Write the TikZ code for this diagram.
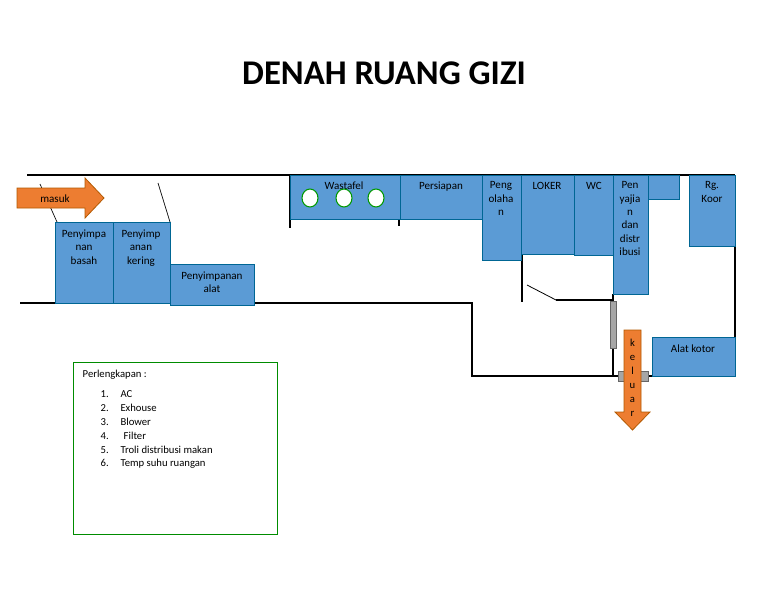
\documentclass[tikz,border=0pt]{standalone}
\usepackage{fontspec}
\setmainfont{Carlito}
\begin{document}
\begin{tikzpicture}[x=0.75pt,y=-0.75pt,
  room/.style={draw=blue!30!black!60!cyan,fill=roomblue,line width=0.6pt},
  wall/.style={draw=black,line width=1.2pt},
  lbl/.style={font=\fontsize{8.3}{10}\selectfont,align=center,anchor=north},
  arr/.style={draw=orange!70!black,fill=orangeF,line width=0.6pt},
  sink/.style={draw=green!60!black,fill=white,line width=0.8pt}]
\definecolor{roomblue}{HTML}{5B9BD5}
\definecolor{orangeF}{HTML}{ED7D31}
\useasboundingbox (0,0) rectangle (768,594);
\node[font=\bfseries\fontsize{26}{30}\selectfont] (title) at (384,73) {DENAH RUANG GIZI};
% walls
\draw[wall] (27,175) -- (735,175);
\draw[wall] (20,303) -- (472,303) -- (472,376) -- (735,376) -- (735,175);
\draw[wall] (290,175) -- (290,228);
\draw[wall] (399,175) -- (399,226);
\draw[wall] (522,254) -- (522,302);
\draw[line width=0.6pt] (527,285) -- (556,300);
\draw[wall] (556,300) -- (613,300);
\draw[wall] (613,294) -- (613,376);
\draw[line width=0.5pt] (40,184) -- (57,222);
\draw[line width=0.5pt] (158,183) -- (170,222);
% rooms
\draw[room] (55,222) rectangle (113,303) node[lbl] (basah) at (84,225) {Penyimpa\\nan\\basah};
\draw[room] (113,222) rectangle (170,303) node[lbl] (kering) at (141,225) {Penyimp\\anan\\kering};
\draw[room] (170,264) rectangle (254,305) node[lbl] (alat) at (212,267) {Penyimpanan\\alat};
\draw[room] (290,175) rectangle (400,219) node[lbl] (wast) at (344,177) {Wastafel};
\draw[sink] (310,198) ellipse (8 and 9);
\draw[sink] (344,198) ellipse (8 and 9);
\draw[sink] (376,198) ellipse (8 and 9);
\draw[room] (400,175) rectangle (482,219) node[lbl] (persiapan) at (441,177) {Persiapan};
\draw[room] (482,175) rectangle (521,260) node[lbl] (olah) at (501,177) {Peng\\olaha\\n};
\draw[room] (521,175) rectangle (574,254) node[lbl] (loker) at (547,177) {LOKER};
\draw[room] (574,175) rectangle (613,255) node[lbl] (wc) at (594,177) {WC};
\draw[room] (613,175) rectangle (648,294) node[lbl] (saji) at (630,177) {Pen\\yajia\\n\\dan\\distr\\ibusi};
\draw[room] (648,175) rectangle (679,199);
\draw[room] (689,175) rectangle (735,246) node[lbl] (koor) at (712,177) {Rg.\\Koor};
\draw[room] (652,337) rectangle (735,376) node[lbl] (kotor) at (693,340) {Alat kotor};
% gray elements
\draw[draw=gray!80!black,fill=gray!70] (610,301) rectangle (616,348);
\draw[draw=gray!80!black,fill=gray!70] (618,371) rectangle (648,381);
% arrows
\draw[arr] (17,188) -- (85,188) -- (85,178) -- (104,198) -- (85,218) -- (85,208) -- (17,208) -- cycle;
\node[font=\fontsize{8.3}{10}\selectfont] (masuk) at (55,199) {masuk};
\draw[arr] (624,330) -- (641,330) -- (641,412) -- (650,412) -- (632.5,430) -- (615,412) -- (624,412) -- cycle;
\node[font=\fontsize{8}{10.5}\selectfont,align=center,anchor=north] (keluar) at (632.5,334) {k\\e\\l\\u\\a\\r};
% equipment box
\draw[draw=green!55!black,line width=0.6pt] (73,362) rectangle (277,534);
\node[font=\fontsize{8}{10}\selectfont,anchor=north west] (perl) at (78,365) {Perlengkapan :};
\node[font=\fontsize{8}{10.4}\selectfont,anchor=north west,align=left] (list) at (96,386)
 {1.\hspace{1.1em}AC\\2.\hspace{1.1em}Exhouse\\3.\hspace{1.1em}Blower\\4.\hspace{1.4em}Filter\\5.\hspace{1.1em}Troli distribusi makan\\6.\hspace{1.1em}Temp suhu ruangan};
\end{tikzpicture}
\end{document}
